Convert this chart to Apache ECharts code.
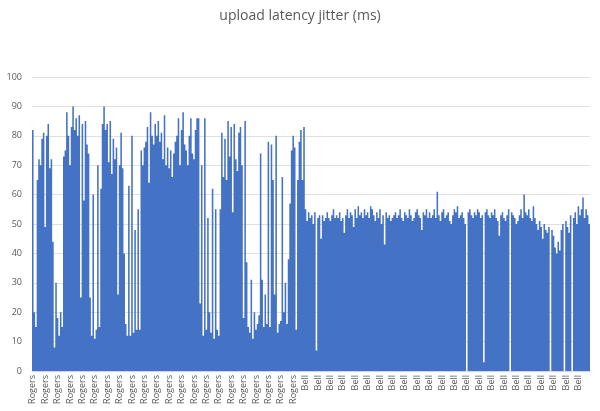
<!DOCTYPE html>
<html><head><meta charset="utf-8">
<script src="https://cdn.jsdelivr.net/npm/echarts@6/dist/echarts.min.js"></script>
<style>html,body{margin:0;padding:0;background:#fff}#c{width:600px;height:411px}</style>
</head><body><div id="c"></div>
<script>
const rogersValues = [82,20,15,
65,72,70,79,81,49,80,84,69,72,44,
8,30,18,12,20,15,
73,75,88,80,70,83,90,82,86,80,87,25,84,58,85,77,74,25,
12,60,11,14,70,15,
62,84,90,82,84,71,85,67,79,72,76,26,70,81,69,
40,16,12,63,12,80,13,48,14,55,14,
75,70,76,78,83,64,88,80,77,84,80,85,78,81,72,87,70,76,69,75,66,74,78,80,86,70,82,88,77,75,70,80,86,74,72,82,86,86,
23,70,12,86,14,52,20,13,62,11,55,14,12,55,
81,66,79,65,85,73,83,54,84,72,68,81,83,70,18,85,37,
15,13,31,11,20,14,16,19,74,31,15,26,16,78,15,77,65,26,80,13,16,17,66,20,30,16,
38,57,75,80,76,14,65,78,82,65,83];
const bellValues = [
55,51,54,52,53,50,54,7,52,53,45,53,51,52,54,52,51,53,55,52,
53,52,54,51,52,47,53,55,52,54,53,49,55,52,56,53,54,52,55,53,
54,52,56,55,53,51,54,52,55,50,53,43,54,52,53,51,52,53,54,52,
53,55,52,51,54,53,52,55,53,51,52,54,55,53,52,48,54,53,55,52,
54,52,53,55,52,61,53,51,54,55,52,53,54,51,50,53,55,54,56,52,
53,54,52,50,0,54,55,53,52,54,53,55,54,52,53,3,54,55,53,52,
54,53,55,52,51,46,53,54,52,51,53,55,0,54,53,52,50,51,53,55,
52,60,54,53,55,52,51,56,52,50,48,51,49,45,50,48,47,49,0,48,
46,42,40,44,41,48,50,0,51,49,47,53,0,52,54,50,56,53,55,59,
52,55,53,50];
const yTicks = [0,10,20,30,40,50,60,70,80,90,100];
const categories = rogersValues.map(()=> 'Rogers').concat(bellValues.map(()=> 'Bell'));
const values = rogersValues.concat(bellValues);
const chart = echarts.init(document.getElementById('c'));
chart.setOption({
  animation:false,
  title:{text:'upload latency jitter (ms)',left:'center',top:4,textStyle:{fontFamily:'Open Sans',fontSize:14,fontWeight:'normal',color:'#595959'}},
  grid:{left:32,right:10,top:77,bottom:40},
  xAxis:{type:'category',data:categories,axisTick:{show:false},
    axisLine:{lineStyle:{color:'#d9d9d9'}},
    axisLabel:{interval:7,rotate:90,fontSize:9,color:'#595959',fontFamily:'Open Sans',margin:4}},
  yAxis:{type:'value',min:yTicks[0],max:yTicks[yTicks.length-1],interval:10,
    axisLine:{show:false},axisTick:{show:false},
    axisLabel:{fontSize:9,color:'#595959',fontFamily:'Open Sans',margin:10},
    splitLine:{lineStyle:{color:'#e0e0e0'}}},
  series:[{type:'bar',data:values,barWidth:'100%',barCategoryGap:'0%',large:true,largeThreshold:50,
    itemStyle:{color:'#4472C4'}}]
});
</script></body></html>
